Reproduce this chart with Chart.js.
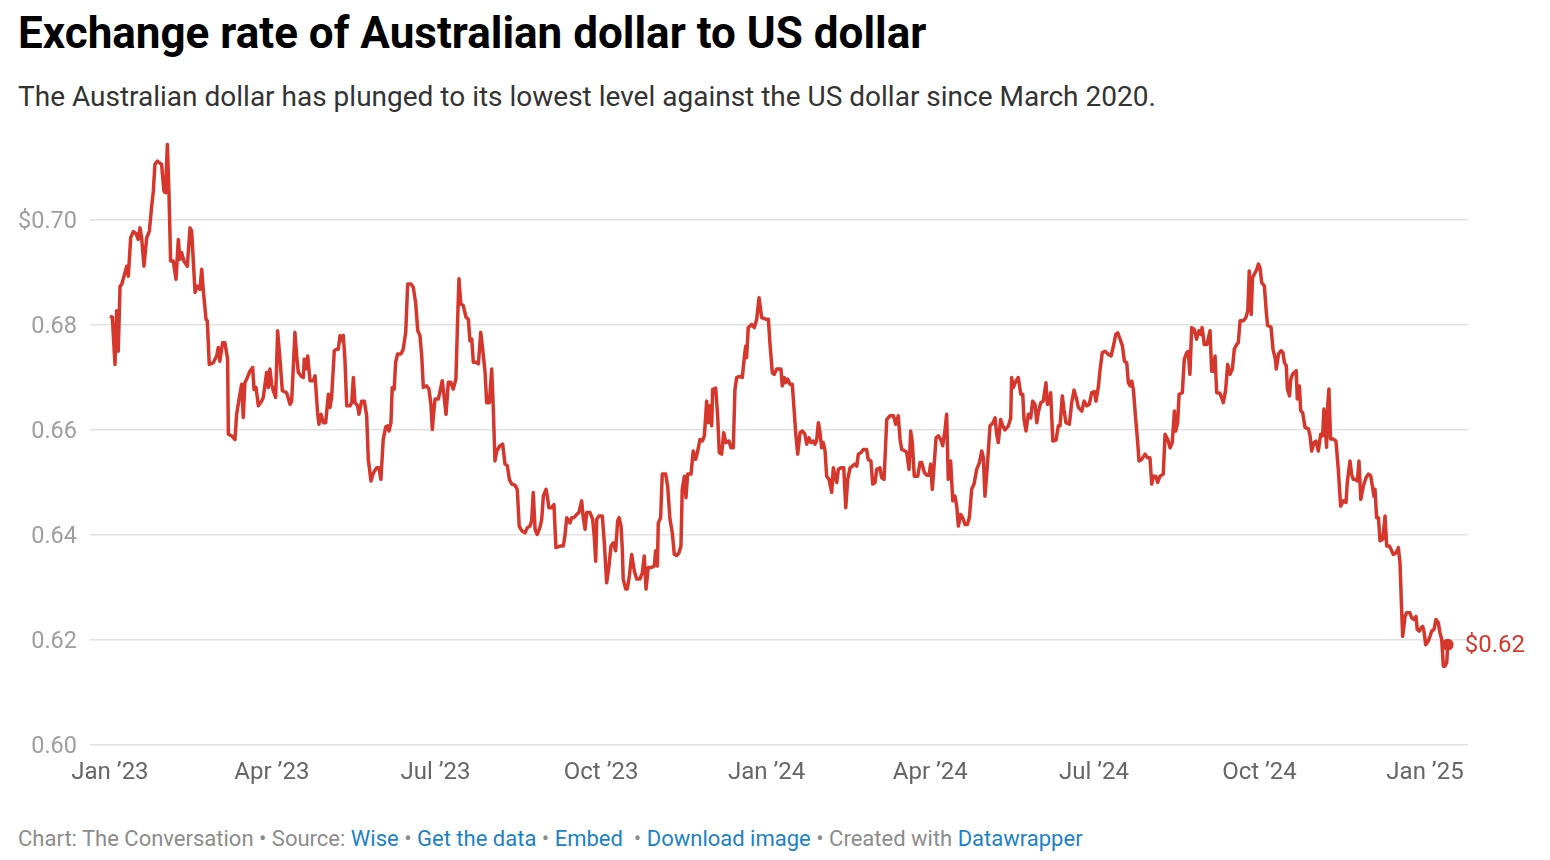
<!DOCTYPE html>
<html>
<head>
<meta charset="utf-8">
<script src="https://cdn.jsdelivr.net/npm/chart.js@4"></script>
<style>
  body { margin: 0; background: #fff; font-family: Roboto, sans-serif; }
  #wrap { position: relative; width: 1550px; height: 860px; overflow: hidden; }
  h1 { position: absolute; left: 18px; top: 7px; margin: 0; font-size: 44px; font-weight: 700; color: #000; white-space: nowrap; }
  .sub { position: absolute; left: 18px; top: 80px; margin: 0; font-size: 28px; color: #333; white-space: nowrap; }
  .foot { position: absolute; left: 18px; top: 826px; margin: 0; font-size: 22px; color: #8c8c8c; white-space: nowrap; }
  .foot a { color: #1b82c8; text-decoration: none; }
  canvas { position: absolute; left: 0; top: 0; }
</style>
</head>
<body>
<div id="wrap">
  <h1>Exchange rate of Australian dollar to US dollar</h1>
  <p class="sub">The Australian dollar has plunged to its lowest level against the US dollar since March 2020.</p>
  <canvas id="fx" width="1550" height="800"></canvas>
  <p class="foot">Chart: The Conversation • Source: <a>Wise</a> • <a>Get the data</a> • <a>Embed</a> &nbsp;• <a>Download image</a> • Created with <a>Datawrapper</a></p>
</div>
<script>
"use strict";
// days since 1 Jan 2023
const days = [
  0, 1.3, 2.8, 3.7, 4.6, 5.6, 6.5, 7.8, 9.3, 10.2, 11.5, 13.0, 14.5, 15.7, 16.7, 17.6, 18.9, 20.4, 21.9, 23.2,
  24.1, 25.0, 26.3, 28.7, 30.0, 30.9, 31.9, 32.8, 33.7, 35.2, 36.7, 38.0, 38.9, 39.8, 41.1, 43.0, 44.5, 45.4, 47.3, 48.5,
  50.0, 51.0, 51.9, 53.4, 54.1, 55.2, 57.4, 59.3, 60.2, 61.1, 62.6, 63.9, 65.4, 65.8, 67.6, 69.5, 70.4, 71.9, 73.2, 74.1,
  75.0, 76.0, 77.8, 79.3, 80.1, 81.2, 82.5, 84.3, 85.2,
  87.1, 88.0, 88.9, 89.9, 90.8, 92.1, 93.2, 94.5, 95.8, 98.2, 100.1, 101.0, 101.9, 102.8, 103.8, 104.7, 106.2, 107.5, 108.0, 108.8,
  109.9, 111.2, 113.0, 114.0, 115.4, 116.2, 117.3, 118.6, 119.9, 121.4, 122.3, 123.2, 124.7, 126.0, 126.9, 127.9, 128.8, 129.7, 130.6, 131.6,
  133.4, 134.4, 135.3, 136.2, 137.7, 138.4, 139.9, 141.4, 142.7, 143.6, 145.1, 146.4, 148.2, 149.5, 150.6, 151.9, 153.3, 154.4, 155.1, 156.2,
  156.9, 158.0, 158.8, 159.9, 161.8, 163.0, 164.4, 165.5, 167.3, 168.6, 169.9, 171.1, 172.3, 173.3, 174.2, 176.0, 177.3, 178.4, 179.2,
  179.8, 180.7, 182.5, 183.4, 184.7, 185.7, 186.8, 188.1, 189.4, 190.8, 192.3, 193.1, 194.0, 195.0, 196.4, 197.9, 199.2, 200.1, 201.1, 202.0,
  203.5, 204.8, 206.1, 207.2, 208.5, 209.4, 210.9, 212.2, 213.1, 214.0, 215.0, 216.8, 218.3, 219.6, 220.9, 222.0, 223.3, 225.1, 226.4, 227.5,
  228.9, 230.7, 232.0, 233.5, 234.4, 235.3, 236.3, 237.5, 239.0, 240.0, 240.9, 242.4, 243.1, 244.0, 245.5, 246.8, 247.9, 250.2, 252.0, 252.9,
  253.9, 255.7, 256.7, 257.9, 259.4, 260.7, 262.2, 263.1, 264.1, 265.0, 266.8, 268.3, 269.2, 270.0,
  270.6, 271.8, 273.7, 274.8, 276.1, 277.4, 278.5, 279.8, 281.1, 282.2, 283.0, 284.1, 284.8, 285.3, 286.7, 287.6, 288.7, 290.0, 291.5, 292.8,
  294.6, 295.9, 297.0, 298.0, 299.2, 301.1, 302.6, 303.3, 304.3, 304.8, 306.1, 307.0, 308.9, 310.0, 311.3, 312.6, 313.7, 315.0, 316.3, 317.4,
  318.1, 319.3, 320.2, 321.1, 323.0, 324.2, 325.6, 326.7, 328.0, 329.3, 330.4, 331.7, 332.6, 333.5, 334.5, 335.0, 336.7, 337.8, 338.7, 340.0,
  341.2, 342.3, 344.1, 345.2, 346.5, 347.4, 348.4, 350.2, 351.5, 352.6, 353.4, 353.9, 354.8, 356.7, 358.2, 359.5, 360.8, 362.3, 364.5,
  366.0, 366.9, 368.2, 369.3, 370.6, 373.0, 373.7, 374.8, 375.6, 376.7, 378.0, 379.3, 380.4, 381.3, 382.3, 383.6, 384.9, 386.3, 387.3, 388.6,
  389.7, 391.0, 391.9, 392.8, 393.8, 394.7, 395.6, 396.5, 397.5, 398.4, 399.7, 401.2, 402.1, 403.0, 404.0, 404.9, 406.4, 407.9, 409.0, 410.1,
  411.4, 412.6, 414.1, 415.1, 416.0, 417.5, 418.8, 420.6, 421.5, 423.0, 424.0, 425.3, 426.2, 428.0, 429.0, 430.3, 431.8, 433.6, 435.5, 436.8,
  438.2, 439.2, 440.1, 442.0, 442.9, 444.2, 445.1, 446.0, 447.1, 449.0, 450.3, 451.2, 452.7, 454.0, 455.3, 456.2, 457.1,
  458.1, 459.2, 460.5, 461.8, 462.9, 464.2, 465.1, 466.0, 467.3, 468.5, 469.7, 470.7, 471.6, 472.9, 474.0, 475.3, 476.6, 477.7, 479.0, 480.3,
  481.8, 483.3, 484.6, 485.5, 486.4, 487.7, 489.2, 490.7, 492.0, 492.9, 493.8, 495.1, 496.3, 497.5, 499.4, 500.7, 501.2, 502.2, 503.6, 504.9,
  506.3, 507.4, 508.1, 509.2, 510.5, 511.8, 512.9, 514.2, 515.2, 516.0, 517.4, 518.8, 520.3, 521.1, 522.2, 522.9, 524.1, 525.9, 527.2, 528.1,
  529.4, 530.3, 531.4, 533.3, 534.6, 535.9, 537.4, 538.3, 540.2, 541.5, 543.0, 544.4, 545.7, 547.2, 548.1,
  549.5, 550.4, 551.6, 553.1, 555.0, 556.5, 557.8, 559.1, 560.2, 561.5, 562.8, 563.9, 565.2, 566.1, 567.1, 568.0, 568.9, 570.2, 571.3, 572.0,
  573.5, 575.4, 576.8, 578.1, 579.1, 580.0, 581.3, 582.4, 583.7, 585.5, 586.5, 588.0, 589.3, 590.5, 591.7, 592.4, 593.5, 594.3, 596.1, 597.2,
  598.5, 599.4, 600.3, 601.3, 602.7, 604.0, 605.3, 606.4, 607.1, 608.3, 609.8, 611.5, 612.4, 613.3, 614.3, 615.2, 617.0, 618.9, 620.2, 621.3,
  622.6, 623.9, 625.0, 626.3, 627.2, 628.2, 630.0, 631.4, 632.5, 633.3, 634.4, 635.1, 636.6, 637.5, 638.4, 639.3, 640.2, 641.7,
  642.8, 643.5, 645.4, 646.5, 647.8, 648.3, 649.6, 650.9, 652.0, 652.8, 653.9, 654.5, 655.7, 656.4, 657.5, 659.4, 660.0, 661.2, 661.9, 663.0,
  664.3, 666.2, 667.1, 668.0, 669.3, 670.4, 671.7, 673.0, 674.1, 674.8, 675.6, 676.3, 676.9, 677.6, 678.5, 680.0, 681.5, 682.8, 684.1, 685.6,
  687.1, 687.8, 689.3, 690.2, 691.1, 692.1, 693.4, 694.3, 695.3, 696.7, 698.2, 699.5, 700.8, 701.9, 702.6, 703.2, 704.1, 705.1, 706.0, 707.5,
  708.8, 709.7, 711.2, 712.5, 713.4, 714.9, 716.2, 717.1, 718.0, 718.6, 719.9, 720.8, 722.6, 723.6, 724.9, 726.0, 726.7, 727.8, 728.8, 729.7,
  730.4, 731.4, 732.8, 733.8, 734.7, 736.0, 737.1, 738.4, 739.3, 740.3, 741.2, 742.1, 743.1, 743.6
];
// AUD in USD
const rates = [
  0.6817, 0.6815, 0.6725, 0.6827, 0.6750, 0.6874, 0.6877, 0.6893, 0.6912, 0.6893, 0.6966, 0.6978, 0.6974, 0.6963, 0.6985, 0.6966, 0.6912, 0.6966, 0.6979, 0.7027,
  0.7055, 0.7106, 0.7112, 0.7106, 0.7055, 0.7052, 0.7144, 0.7052, 0.6922, 0.6922, 0.6887, 0.6963, 0.6925, 0.6938, 0.6922, 0.6912, 0.6985, 0.6979, 0.6862, 0.6874,
  0.6868, 0.6906, 0.6865, 0.6811, 0.6808, 0.6725, 0.6728, 0.6741, 0.6757, 0.6731, 0.6766, 0.6766, 0.6735, 0.6592, 0.6589, 0.6582, 0.6630, 0.6662, 0.6687, 0.6624,
  0.6690, 0.6697, 0.6712, 0.6719, 0.6677, 0.6681, 0.6646, 0.6655, 0.6662,
  0.6710, 0.6681, 0.6716, 0.6687, 0.6675, 0.6662, 0.6789, 0.6735, 0.6675, 0.6671, 0.6649, 0.6655, 0.6719, 0.6786, 0.6741, 0.6710, 0.6703, 0.6700, 0.6735, 0.6716,
  0.6741, 0.6694, 0.6694, 0.6703, 0.6633, 0.6611, 0.6630, 0.6614, 0.6614, 0.6668, 0.6643, 0.6662, 0.6751, 0.6754, 0.6754, 0.6780, 0.6770, 0.6780, 0.6735, 0.6646,
  0.6646, 0.6652, 0.6700, 0.6652, 0.6646, 0.6630, 0.6655, 0.6655, 0.6627, 0.6544, 0.6503, 0.6518, 0.6528, 0.6528, 0.6506, 0.6582, 0.6606, 0.6608, 0.6598, 0.6614,
  0.6681, 0.6678, 0.6729, 0.6745, 0.6745, 0.6754, 0.6786, 0.6878, 0.6878, 0.6872, 0.6843, 0.6789, 0.6780, 0.6741, 0.6681, 0.6684, 0.6678, 0.6649, 0.6601,
  0.6627, 0.6659, 0.6659, 0.6672, 0.6694, 0.6665, 0.6630, 0.6691, 0.6691, 0.6678, 0.6697, 0.6792, 0.6888, 0.6840, 0.6837, 0.6815, 0.6811, 0.6770, 0.6773, 0.6729,
  0.6729, 0.6726, 0.6786, 0.6754, 0.6710, 0.6652, 0.6652, 0.6716, 0.6640, 0.6541, 0.6560, 0.6570, 0.6573, 0.6535, 0.6532, 0.6506, 0.6497, 0.6495, 0.6487, 0.6417,
  0.6408, 0.6404, 0.6414, 0.6417, 0.6427, 0.6481, 0.6411, 0.6401, 0.6414, 0.6430, 0.6474, 0.6487, 0.6474, 0.6452, 0.6452, 0.6458, 0.6376, 0.6379, 0.6379, 0.6398,
  0.6433, 0.6423, 0.6433, 0.6433, 0.6439, 0.6443, 0.6465, 0.6433, 0.6411, 0.6443, 0.6443, 0.6430, 0.6398, 0.6350,
  0.6430, 0.6436, 0.6436, 0.6385, 0.6309, 0.6341, 0.6379, 0.6385, 0.6370, 0.6427, 0.6433, 0.6417, 0.6373, 0.6316, 0.6297, 0.6297, 0.6322, 0.6363, 0.6331, 0.6316,
  0.6316, 0.6328, 0.6360, 0.6297, 0.6338, 0.6338, 0.6341, 0.6370, 0.6341, 0.6423, 0.6433, 0.6516, 0.6516, 0.6493, 0.6430, 0.6404, 0.6363, 0.6361, 0.6366, 0.6379,
  0.6487, 0.6512, 0.6471, 0.6516, 0.6516, 0.6560, 0.6544, 0.6560, 0.6582, 0.6579, 0.6589, 0.6655, 0.6614, 0.6646, 0.6608, 0.6677, 0.6680, 0.6627, 0.6557, 0.6554,
  0.6595, 0.6576, 0.6579, 0.6566, 0.6566, 0.6677, 0.6700, 0.6702, 0.6700, 0.6738, 0.6760, 0.6738, 0.6795, 0.6801, 0.6795, 0.6811, 0.6852, 0.6814, 0.6811,
  0.6811, 0.6763, 0.6709, 0.6706, 0.6716, 0.6716, 0.6684, 0.6700, 0.6690, 0.6697, 0.6687, 0.6687, 0.6633, 0.6589, 0.6554, 0.6595, 0.6598, 0.6592, 0.6573, 0.6585,
  0.6576, 0.6579, 0.6573, 0.6579, 0.6614, 0.6595, 0.6566, 0.6576, 0.6560, 0.6512, 0.6506, 0.6481, 0.6528, 0.6512, 0.6500, 0.6525, 0.6528, 0.6528, 0.6452, 0.6506,
  0.6528, 0.6531, 0.6535, 0.6531, 0.6554, 0.6557, 0.6563, 0.6563, 0.6544, 0.6541, 0.6497, 0.6500, 0.6525, 0.6528, 0.6509, 0.6506, 0.6620, 0.6627, 0.6627, 0.6611,
  0.6627, 0.6582, 0.6563, 0.6560, 0.6557, 0.6525, 0.6598, 0.6576, 0.6512, 0.6512, 0.6538, 0.6538, 0.6519, 0.6514, 0.6514, 0.6535, 0.6487,
  0.6531, 0.6585, 0.6589, 0.6582, 0.6570, 0.6601, 0.6630, 0.6506, 0.6541, 0.6465, 0.6474, 0.6455, 0.6417, 0.6439, 0.6433, 0.6420, 0.6420, 0.6433, 0.6487, 0.6497,
  0.6525, 0.6538, 0.6560, 0.6547, 0.6474, 0.6531, 0.6608, 0.6613, 0.6623, 0.6592, 0.6576, 0.6620, 0.6608, 0.6600, 0.6608, 0.6623, 0.6700, 0.6681, 0.6693, 0.6700,
  0.6668, 0.6668, 0.6620, 0.6598, 0.6630, 0.6623, 0.6655, 0.6649, 0.6614, 0.6633, 0.6652, 0.6655, 0.6690, 0.6649, 0.6652, 0.6671, 0.6579, 0.6581, 0.6608, 0.6608,
  0.6665, 0.6639, 0.6614, 0.6611, 0.6652, 0.6676, 0.6658, 0.6643, 0.6636, 0.6655, 0.6646, 0.6649, 0.6671, 0.6673, 0.6655,
  0.6684, 0.6716, 0.6747, 0.6750, 0.6744, 0.6741, 0.6760, 0.6782, 0.6785, 0.6773, 0.6760, 0.6731, 0.6728, 0.6690, 0.6684, 0.6693, 0.6677, 0.6620, 0.6576, 0.6541,
  0.6544, 0.6554, 0.6547, 0.6547, 0.6497, 0.6512, 0.6512, 0.6500, 0.6512, 0.6516, 0.6592, 0.6582, 0.6566, 0.6576, 0.6636, 0.6598, 0.6614, 0.6668, 0.6671, 0.6735,
  0.6747, 0.6750, 0.6706, 0.6795, 0.6792, 0.6773, 0.6789, 0.6782, 0.6795, 0.6763, 0.6763, 0.6789, 0.6712, 0.6712, 0.6741, 0.6671, 0.6670, 0.6652, 0.6677, 0.6725,
  0.6706, 0.6716, 0.6754, 0.6763, 0.6766, 0.6808, 0.6808, 0.6814, 0.6827, 0.6903, 0.6820, 0.6890, 0.6900, 0.6906, 0.6916, 0.6909, 0.6881, 0.6874,
  0.6824, 0.6799, 0.6796, 0.6754, 0.6735, 0.6716, 0.6745, 0.6751, 0.6748, 0.6729, 0.6722, 0.6678, 0.6665, 0.6697, 0.6707, 0.6713, 0.6659, 0.6684, 0.6637, 0.6633,
  0.6605, 0.6602, 0.6589, 0.6560, 0.6576, 0.6579, 0.6560, 0.6592, 0.6589, 0.6640, 0.6602, 0.6567, 0.6646, 0.6678, 0.6583, 0.6583, 0.6579, 0.6525, 0.6455, 0.6465,
  0.6462, 0.6500, 0.6541, 0.6516, 0.6506, 0.6506, 0.6503, 0.6541, 0.6468, 0.6493, 0.6509, 0.6516, 0.6513, 0.6490, 0.6474, 0.6487, 0.6433, 0.6433, 0.6389, 0.6392,
  0.6436, 0.6379, 0.6379, 0.6370, 0.6363, 0.6366, 0.6376, 0.6347, 0.6258, 0.6207, 0.6245, 0.6252, 0.6252, 0.6242, 0.6239, 0.6245, 0.6220, 0.6217, 0.6223, 0.6226,
  0.6217, 0.6191, 0.6198, 0.6207, 0.6217, 0.6220, 0.6239, 0.6233, 0.6214, 0.6201, 0.6150, 0.6150, 0.6157, 0.6191
];
// x-axis ticks (days since 1 Jan 2023) and their labels
const tickDays = [0, 90, 181, 273, 365, 456, 547, 639, 731];
const tickLabels = ["Jan ’23", "Apr ’23", "Jul ’23", "Oct ’23", "Jan ’24", "Apr ’24", "Jul ’24", "Oct ’24", "Jan ’25"];
const yTicks = [0.60, 0.62, 0.64, 0.66, 0.68, 0.70];

const RED = "#d6372c";
const points = days.map((d, i) => ({ x: d, y: rates[i] }));
const last = points.length - 1;

const endLabel = {
  id: "endLabel",
  afterDatasetsDraw(chart) {
    const pt = chart.getDatasetMeta(0).data[last];
    const c = chart.ctx;
    c.save();
    c.font = "24px Roboto";
    c.fillStyle = RED;
    c.textBaseline = "middle";
    c.fillText("$" + rates[last].toFixed(2), pt.x + 17, pt.y + 1);
    c.restore();
  }
};

new Chart(document.getElementById("fx"), {
  type: "line",
  data: {
    datasets: [{
      data: points,
      borderColor: RED,
      backgroundColor: RED,
      borderWidth: 3.5,
      tension: 0,
      borderJoinStyle: "round",
      pointRadius: (ctx) => (ctx.dataIndex === last ? 6 : 0),
      pointBorderWidth: 0,
      pointHoverRadius: 0
    }]
  },
  options: {
    responsive: false,
    animation: false,
    events: [],
    layout: { padding: { top: 115, right: 82, left: 0, bottom: 0 } },
    plugins: { legend: { display: false }, tooltip: { enabled: false } },
    scales: {
      x: {
        type: "linear",
        min: -11.1,
        max: 754.9,
        afterBuildTicks: (s) => { s.ticks = tickDays.map((v) => ({ value: v })); },
        afterFit: (s) => { s.height = 55; },
        grid: { display: false },
        border: { display: false },
        ticks: {
          autoSkip: false,
          maxRotation: 0,
          padding: 6,
          color: "#666",
          font: { family: "Roboto", size: 24 },
          callback: (v) => tickLabels[tickDays.indexOf(v)]
        }
      },
      y: {
        min: 0.6,
        max: 0.72,
        afterBuildTicks: (s) => { s.ticks = yTicks.map((v) => ({ value: v })); },
        afterFit: (s) => { s.width = 90; },
        grid: { color: "#e2e2e2", lineWidth: 1.5, drawTicks: false },
        border: { display: false },
        ticks: {
          padding: 13,
          labelOffset: 2,
          color: "#9e9e9e",
          font: { family: "Roboto", size: 23.5 },
          callback: (v) => (Math.abs(v - 0.7) < 1e-9 ? "$0.70" : v.toFixed(2))
        }
      }
    }
  },
  plugins: [endLabel]
});
</script>
</body>
</html>
